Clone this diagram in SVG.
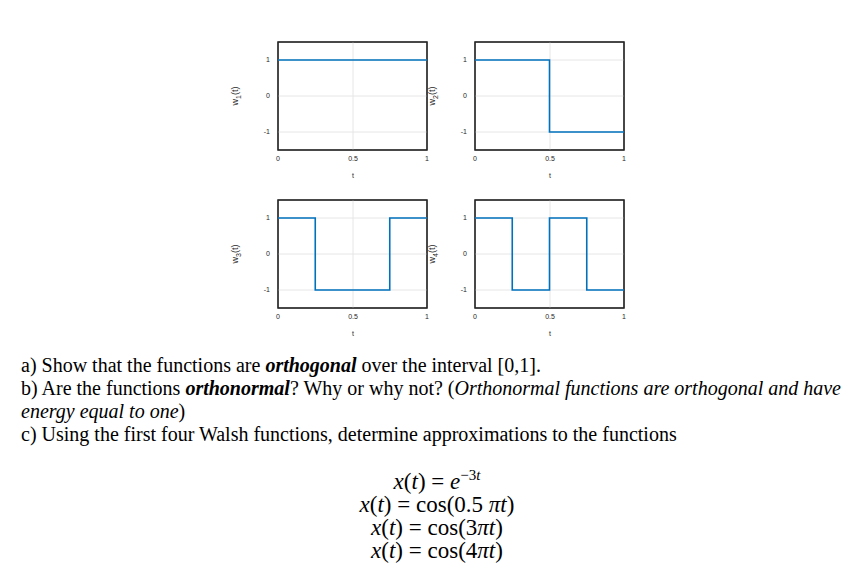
<svg xmlns="http://www.w3.org/2000/svg" width="866" height="581" viewBox="0 0 866 581">
<style>
.ax{fill:#fff;stroke:#262626;stroke-width:1.2}
.gr{stroke:#e6e6e6;stroke-width:1}
.sig{fill:none;stroke:#0072bd;stroke-width:1.6}
.tk{font-family:"Liberation Sans",Arial,sans-serif;font-size:7px;fill:#262626}
.yl{font-family:"Liberation Sans",Arial,sans-serif;font-size:9px;fill:#262626}
.tx{font-family:"Liberation Serif","Times New Roman",serif;font-size:20px;fill:#000}
.eq{font-family:"Liberation Serif","Times New Roman",serif;font-size:23px;fill:#000}
</style>
<rect width="866" height="581" fill="#fff"/>
<defs>
<g id="axes">
<rect class="ax" x="0" y="0" width="149" height="108"/>
<line class="gr" x1="75" y1="0" x2="75" y2="108"/>
<line class="gr" x1="0" y1="18" x2="149" y2="18"/>
<line class="gr" x1="0" y1="54" x2="149" y2="54"/>
<line class="gr" x1="0" y1="90" x2="149" y2="90"/>
<rect x="0" y="0" width="149" height="108" fill="none" stroke="#262626" stroke-width="1.2"/>
<text class="tk" x="-8" y="20" text-anchor="end">1</text>
<text class="tk" x="-8" y="56" text-anchor="end">0</text>
<text class="tk" x="-8" y="92" text-anchor="end">-1</text>
<text class="tk" x="0" y="119" text-anchor="middle">0</text>
<text class="tk" x="75" y="119" text-anchor="middle">0.5</text>
<text class="tk" x="149" y="119" text-anchor="middle">1</text>
<text class="tk" x="75" y="136" text-anchor="middle">t</text>
</g>
</defs>
<g id="plot1" transform="translate(278,42)">
<use href="#axes"/>
<polyline class="sig" points="0,18 149,18"/>
<text class="yl" transform="translate(-40,54) rotate(-90)" text-anchor="middle">w<tspan font-size="7" dy="3">1</tspan><tspan dy="-3">(t)</tspan></text>
</g>
<g id="plot2" transform="translate(475,42)">
<use href="#axes"/>
<polyline class="sig" points="0,18 74.5,18 74.5,90 149,90"/>
<text class="yl" transform="translate(-40,54) rotate(-90)" text-anchor="middle">w<tspan font-size="7" dy="3">2</tspan><tspan dy="-3">(t)</tspan></text>
</g>
<g id="plot3" transform="translate(278,200)">
<use href="#axes"/>
<polyline class="sig" points="0,18 37.25,18 37.25,90 111.75,90 111.75,18 149,18"/>
<text class="yl" transform="translate(-40,54) rotate(-90)" text-anchor="middle">w<tspan font-size="7" dy="3">3</tspan><tspan dy="-3">(t)</tspan></text>
</g>
<g id="plot4" transform="translate(475,200)">
<use href="#axes"/>
<polyline class="sig" points="0,18 37.25,18 37.25,90 74.5,90 74.5,18 111.75,18 111.75,90 149,90"/>
<text class="yl" transform="translate(-40,54) rotate(-90)" text-anchor="middle">w<tspan font-size="7" dy="3">4</tspan><tspan dy="-3">(t)</tspan></text>
</g>
<g id="text">
<text class="tx" x="21" y="372">a) Show that the functions are <tspan font-weight="bold" font-style="italic">orthogonal</tspan> over the interval [0,1].</text>
<text class="tx" x="21" y="395">b) Are the functions <tspan font-weight="bold" font-style="italic">orthonormal</tspan>? Why or why not? (<tspan font-style="italic">Orthonormal functions are orthogonal and have</tspan></text>
<text class="tx" x="21" y="418"><tspan font-style="italic">energy equal to one</tspan>)</text>
<text class="tx" x="21" y="441">c) Using the first four Walsh functions, determine approximations to the functions</text>
<text class="eq" x="437" y="489" text-anchor="middle"><tspan font-style="italic">x</tspan>(<tspan font-style="italic">t</tspan>) = <tspan font-style="italic">e</tspan><tspan font-size="15" dy="-9">−3<tspan font-style="italic">t</tspan></tspan></text>
<text class="eq" x="437" y="512" text-anchor="middle"><tspan font-style="italic">x</tspan>(<tspan font-style="italic">t</tspan>) = cos(0.5 <tspan font-style="italic">πt</tspan>)</text>
<text class="eq" x="437" y="535" text-anchor="middle"><tspan font-style="italic">x</tspan>(<tspan font-style="italic">t</tspan>) = cos(3<tspan font-style="italic">πt</tspan>)</text>
<text class="eq" x="437" y="558" text-anchor="middle"><tspan font-style="italic">x</tspan>(<tspan font-style="italic">t</tspan>) = cos(4<tspan font-style="italic">πt</tspan>)</text>
</g>
</svg>
